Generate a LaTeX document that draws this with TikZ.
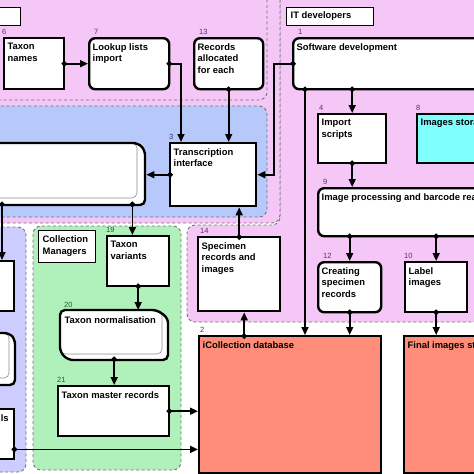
\documentclass[tikz,border=0pt]{standalone}
\usepackage{fontspec}
\setmainfont{Liberation Sans}
\usetikzlibrary{arrows.meta}

\definecolor{grppink}{RGB}{244,199,246}
\definecolor{grpblue}{RGB}{182,201,250}
\definecolor{grplav}{RGB}{204,204,255}
\definecolor{grpgreen}{RGB}{176,240,186}
\definecolor{dbsalmon}{RGB}{255,141,121}
\definecolor{storecyan}{RGB}{128,255,255}
\definecolor{numpink}{RGB}{85,55,90}
\definecolor{numgreen}{RGB}{35,95,40}
\definecolor{numblue}{RGB}{35,55,115}

\begin{document}
\begin{tikzpicture}[x=1pt, y=-1pt,
    region/.style={draw=black!55, dash pattern=on 3pt off 2.5pt, line width=0.9pt, rounded corners=8pt},
    tag/.style={draw, line width=1.2pt, fill=white, anchor=north west, inner sep=0pt},
    box/.style={draw, line width=2.4pt, fill=white, anchor=north west, inner sep=0pt},
    rbox/.style={box, rounded corners=6pt},
    txt/.style={anchor=north west, align=left, inner sep=0pt, xshift=4.5pt, yshift=-6pt,
        font=\fontsize{9.4}{11.5}\selectfont\bfseries},
    num/.style={anchor=south west, inner sep=0pt, yshift=2pt, text=numpink,
        font=\fontsize{7.5}{8}\selectfont},
    rnum/.style={num, xshift=6pt},
    flow/.style={line width=1.6pt, {Circle[length=5.5pt]}-{Triangle[length=8pt, width=7pt]}, shorten <=-3.8pt},
  ]
    \useasboundingbox (0,0) rectangle (474,474);
    \clip (0,0) rectangle (474,474);

    % group areas
    \draw[region, fill=grppink] (280,-20) -- (490,-20) -- (490,322) -- (187,322) -- (187,225) -- (280,225) -- cycle;
    \draw[region, fill=grppink] (-20,-20) rectangle (280,223);
    \draw[region, fill=grppink] (-20,-20) rectangle (267,100);
    \draw[region, fill=grpblue] (-20,106) rectangle (267,217);
    \draw[region, fill=grplav] (-20,227) rectangle (26,472);
    \draw[region, fill=grpgreen] (33,226) rectangle (181,470);

    % taxon lists
    \node[tag, minimum width=30pt, minimum height=18pt] (grptag) at (-10,7) {};
    \node[box, minimum width=60pt, minimum height=51pt,
        label={[txt]north west:{Taxon\\names}}, label={[num, xshift=-1pt]north west:6}] (taxa) at (3,37) {};
    \node[rbox, minimum width=80pt, minimum height=51pt,
        label={[txt]north west:{Lookup lists\\import}}, label={[rnum]north west:7}] (lookup) at (88,37) {};
    \node[rbox, minimum width=69pt, minimum height=51pt,
        label={[txt]north west:{Records\\allocated\\for each}}, label={[rnum]north west:13}] (rec) at (193,37) {};

    % transcription
    \node[box, minimum width=86pt, minimum height=63pt,
        label={[txt]north west:{Transcription\\interface}}, label={[num, text=numblue]north west:3}] (trans) at (169,142) {};
    \fill[white, rounded corners=5pt] (-40,143) -- (138,143) -- (145,150) -- (145,205) -- (-32,205) -- (-40,197) -- cycle;
    \draw[black!45, line width=0.6pt, rounded corners=5pt] (-40,143) rectangle (137,198);
    \draw[line width=2.4pt, rounded corners=5pt] (-40,143) -- (138,143) -- (145,150) -- (145,205) -- (-32,205) -- (-40,197) -- cycle;
    \node[minimum width=186pt, minimum height=62pt, anchor=north west, inner sep=0pt] (sheets) at (-40,143) {};

    % IT developers
    \node[tag, minimum width=87pt, minimum height=18pt,
        label={[txt, yshift=2pt]north west:IT developers}] (ittag) at (286,7) {};
    \node[rbox, minimum width=200pt, minimum height=51pt,
        label={[txt]north west:Software development}, label={[rnum]north west:1}] (softdev) at (292,37) {};
    \node[box, minimum width=68pt, minimum height=49pt,
        label={[txt]north west:{Import\\scripts}}, label={[num, xshift=2pt]north west:4}] (import) at (317,113) {};
    \node[box, fill=storecyan, minimum width=80pt, minimum height=49pt,
        label={[txt]north west:Images storage}, label={[num]north west:8}] (imgst) at (416,113) {};
    \node[rbox, minimum width=180pt, minimum height=48pt,
        label={[txt]north west:Image processing and barcode reading}, label={[rnum]north west:9}] (imgproc) at (317,187) {};
    \node[rbox, minimum width=63pt, minimum height=50pt,
        label={[txt]north west:{Creating\\specimen\\records}}, label={[rnum]north west:12}] (creating) at (317,261) {};
    \node[box, minimum width=62pt, minimum height=50pt,
        label={[txt]north west:{Label\\images}}, label={[num]north west:10}] (lblimg) at (404,261) {};
    \node[box, minimum width=82pt, minimum height=74pt,
        label={[txt]north west:{Specimen\\records and\\images}}, label={[num, xshift=3pt]north west:14}] (spec) at (197,236) {};

    % storage
    \node[box, fill=dbsalmon, minimum width=182pt, minimum height=137pt,
        label={[txt]north west:iCollection database}, label={[num, text=black!75, xshift=2pt]north west:2}] (db) at (198,335) {};
    \node[box, fill=dbsalmon, minimum width=90pt, minimum height=137pt,
        label={[txt]north west:Final images storage}] (final) at (403,335) {};

    % collection managers
    \node[tag, minimum width=57pt, minimum height=32pt,
        label={[txt, yshift=0.5pt]north west:{Collection\\Managers}}] (cmtag) at (38,230) {};
    \node[box, minimum width=62pt, minimum height=50pt,
        label={[txt]north west:{Taxon\\variants}}, label={[num, text=numgreen]north west:19}] (taxvar) at (106,235) {};
    \fill[white, rounded corners=5pt] (60,310) -- (157,310) -- (168,318) -- (168,360) -- (68,360) -- (60,352) -- cycle;
    \draw[black!45, line width=0.6pt, rounded corners=5pt] (60,310) rectangle (162,354);
    \draw[line width=2.4pt, rounded corners=5pt] (60,310) -- (157,310) -- (168,318) -- (168,360) -- (68,360) -- (60,352) -- cycle;
    \node[minimum width=108pt, minimum height=50pt, anchor=north west, inner sep=0pt,
        label={[txt]north west:Taxon normalisation}, label={[num, text=numgreen, xshift=4pt]north west:20}] (norm) at (60,310) {};
    \node[box, minimum width=111pt, minimum height=50pt,
        label={[txt]north west:Taxon master records}, label={[num, text=numgreen]north west:21}] (master) at (57,385) {};

    % left column
    \node[box, minimum width=63pt, minimum height=50pt] (ebox1) at (-50,260) {};
    \fill[white, rounded corners=5pt] (-50,333) -- (9,333) -- (15,339) -- (15,385) -- (-42,385) -- (-50,377) -- cycle;
    \draw[black!45, line width=0.6pt, rounded corners=5pt] (-50,333) rectangle (9,378);
    \draw[line width=2.4pt, rounded corners=5pt] (-50,333) -- (9,333) -- (15,339) -- (15,385) -- (-42,385) -- (-50,377) -- cycle;
    \node[box, minimum width=63pt, minimum height=50pt,
        label={[txt, anchor=north east, xshift=-11pt]north east:ls}] (ebox2) at (-50,408) {};

    % connectors
    \coordinate (sheetsL) at ([xshift=42pt]sheets.south west);
    \coordinate (sheetsR) at ([xshift=-14pt]sheets.south east);
    \coordinate (devout) at ([xshift=13pt]softdev.south west);
    \coordinate (dbup) at ([xshift=5pt]spec.south);
    \coordinate (eout) at ([yshift=11pt]ebox2.south east);
    \draw[flow] (taxa.east) -- (lookup.west);
    \draw[flow] (lookup.east) -| ([xshift=12pt]trans.north west);
    \draw[flow] (rec.south) -- (rec.south |- trans.north);
    \draw[flow] (trans.west) -- (trans.west -| sheets.east);
    \draw[flow] (softdev.west) -- ++(-18,0) |- (trans.east);
    \draw[flow] (devout) -- (devout |- db.north);
    \draw[flow] (import.north |- softdev.south) -- (import.north);
    \draw[flow] (import.south) -- (import.south |- imgproc.north);
    \draw[flow] (creating.north |- imgproc.south) -- (creating.north);
    \draw[flow] (lblimg.north |- imgproc.south) -- (lblimg.north);
    \draw[flow] (creating.south) -- (creating.south |- db.north);
    \draw[flow] (lblimg.south) -- (lblimg.south |- final.north);
    \draw[flow] (spec.north) -- (spec.north |- trans.south);
    \draw[flow] (dbup |- db.north) -- (dbup);
    \draw[flow] (sheetsL) -- (sheetsL |- ebox1.north);
    \draw[flow] (sheetsR) -- (sheetsR |- taxvar.north);
    \draw[flow] (taxvar.south) -- (taxvar.south |- norm.north);
    \draw[flow] (norm.south) -- (norm.south |- master.north);
    \draw[flow] (master.east) -- (master.east -| db.west);
    \draw[flow] (eout) -- (eout -| db.west);
\end{tikzpicture}
\end{document}
